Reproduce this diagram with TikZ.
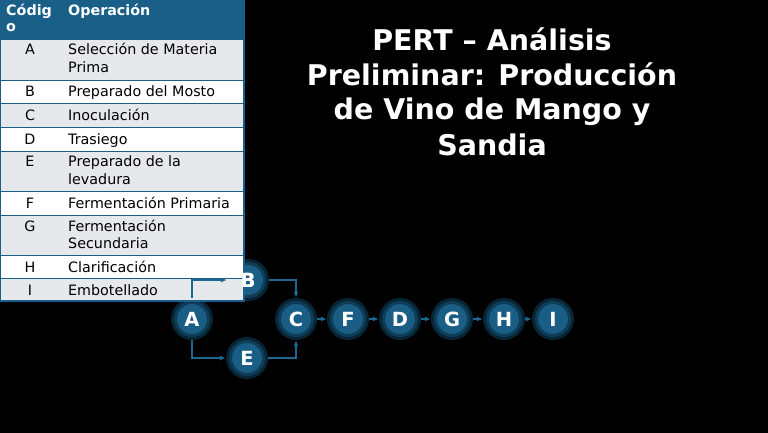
\documentclass[tikz,border=0pt]{standalone}
\usepackage{fontspec}
\setmainfont{DejaVu Sans}
\usetikzlibrary{arrows.meta}
\definecolor{hdr}{HTML}{1A5F87}
\definecolor{rowgray}{HTML}{E6E9EC}
\definecolor{nodefill}{HTML}{1B5E85}
\definecolor{ringcol}{HTML}{0E3D58}
\definecolor{linecol}{HTML}{1E6790}
\tikzset{
  cell/.style={anchor=base west,inner sep=0,font=\fontsize{14.3}{18}\selectfont,text=black},
  codecell/.style={anchor=base,inner sep=0,font=\fontsize{14.3}{18}\selectfont,text=black},
  hcell/.style={anchor=base west,inner sep=0,font=\fontsize{14.3}{16}\selectfont\bfseries,text=white},
  titleline/.style={anchor=base,inner sep=0,font=\fontsize{28.5}{34}\selectfont\bfseries,text=white},
  ev/.style={circle,fill=nodefill,draw=ringcol,line width=3pt,minimum size=33pt,inner sep=0,
    font=\fontsize{19.5}{19.5}\selectfont\bfseries,text=white},
  glow/.style={circle,fill=ringcol!60!black,minimum size=42pt,inner sep=0},
  conn/.style={draw=linecol,line width=1.3pt,-{Latex[length=6pt,width=5pt]}},
}
\begin{document}
\begin{tikzpicture}[x=1pt,y=-1pt]
\fill[black] (0,0) rectangle (768,433);
\useasboundingbox (0,0) rectangle (768,433);
% Title
\node[titleline] (t1) at (492,51) {PERT – Análisis};
\node[titleline] (t2) at (492,86) {Preliminar: Producción};
\node[titleline] (t3) at (492,120) {de Vino de Mango y};
\node[titleline] (t4) at (492,155) {Sandia};
% network glow
\foreach \n/\x/\y in {gA/192/319,gB/248/280,gC/296/319,gF/348/319,gD/400/319,gG/452/319,gH/504/319,gI/553/319,gE/247/358}
  \node[glow] (\n) at (\x,\y) {};
% network nodes
\node[ev] (A) at (192,319) {A};
\node[ev] (B) at (248,280) {B};
\node[ev] (C) at (296,319) {C};
\node[ev] (F) at (348,319) {F};
\node[ev] (D) at (400,319) {D};
\node[ev] (G) at (452,319) {G};
\node[ev] (H) at (504,319) {H};
\node[ev] (I) at (553,319) {I};
\node[ev] (E) at (247,358) {E};
% Table
\fill[hdr] (0,0) rectangle (244,40);
\foreach \t/\b/\c in {40/81/rowgray,81/104/white,104/128/rowgray,128/151/white,151/191/rowgray,191/215/white,215/255/rowgray,255/278/white,278/301/rowgray}
  \fill[\c] (0,\t) rectangle (244,\b);
\foreach \y in {40,81,104,128,151,191,215,255,278}
  \draw[hdr,line width=1pt] (0,\y) -- (244,\y);
\draw[hdr,line width=1.2pt] (0,0) rectangle (244,301);
\node[hcell] (h1) at (6,16) {Códig};
\node[hcell] (h1b) at (6,32) {o};
\node[hcell] (h2) at (68,16) {Operación};
\node[codecell] (cA) at (30,55) {A};
\node[cell] (oA) at (68,55) {Selección de Materia};
\node[cell] (oA2) at (68,73) {Prima};
\node[codecell] (cB) at (30,97) {B};
\node[cell] (oB) at (68,97) {Preparado del Mosto};
\node[codecell] (cC) at (30,121) {C};
\node[cell] (oC) at (68,121) {Inoculación};
\node[codecell] (cD) at (30,144) {D};
\node[cell] (oD) at (68,144) {Trasiego};
\node[codecell] (cE) at (30,166) {E};
\node[cell] (oE) at (68,166) {Preparado de la};
\node[cell] (oE2) at (68,184) {levadura};
\node[codecell] (cF) at (30,208) {F};
\node[cell] (oF) at (68,208) {Fermentación Primaria};
\node[codecell] (cG) at (30,231) {G};
\node[cell] (oG) at (68,231) {Fermentación};
\node[cell] (oG2) at (68,248) {Secundaria};
\node[codecell] (cH) at (30,272) {H};
\node[cell] (oH) at (68,272) {Clarificación};
\node[codecell] (cI) at (30,295) {I};
\node[cell] (oI) at (68,295) {Embotellado};
% connectors (drawn over the table, as in the reference)
\draw[conn] (gA.north) |- (gB.west);
\draw[conn] (gA.south) |- (gE.west);
\draw[conn] (gB.east) -| (gC.north);
\draw[conn] (gE.east) -| (gC.south);
\draw[conn] (gC.east) -- (gF.west);
\draw[conn] (gF.east) -- (gD.west);
\draw[conn] (gD.east) -- (gG.west);
\draw[conn] (gG.east) -- (gH.west);
\draw[conn] (gH.east) -- (gI.west);
% B letter over table edge
\node[inner sep=0,font=\fontsize{19.5}{19.5}\selectfont\bfseries,text=white] (Bl) at (248,280) {B};
\end{tikzpicture}
\end{document}
